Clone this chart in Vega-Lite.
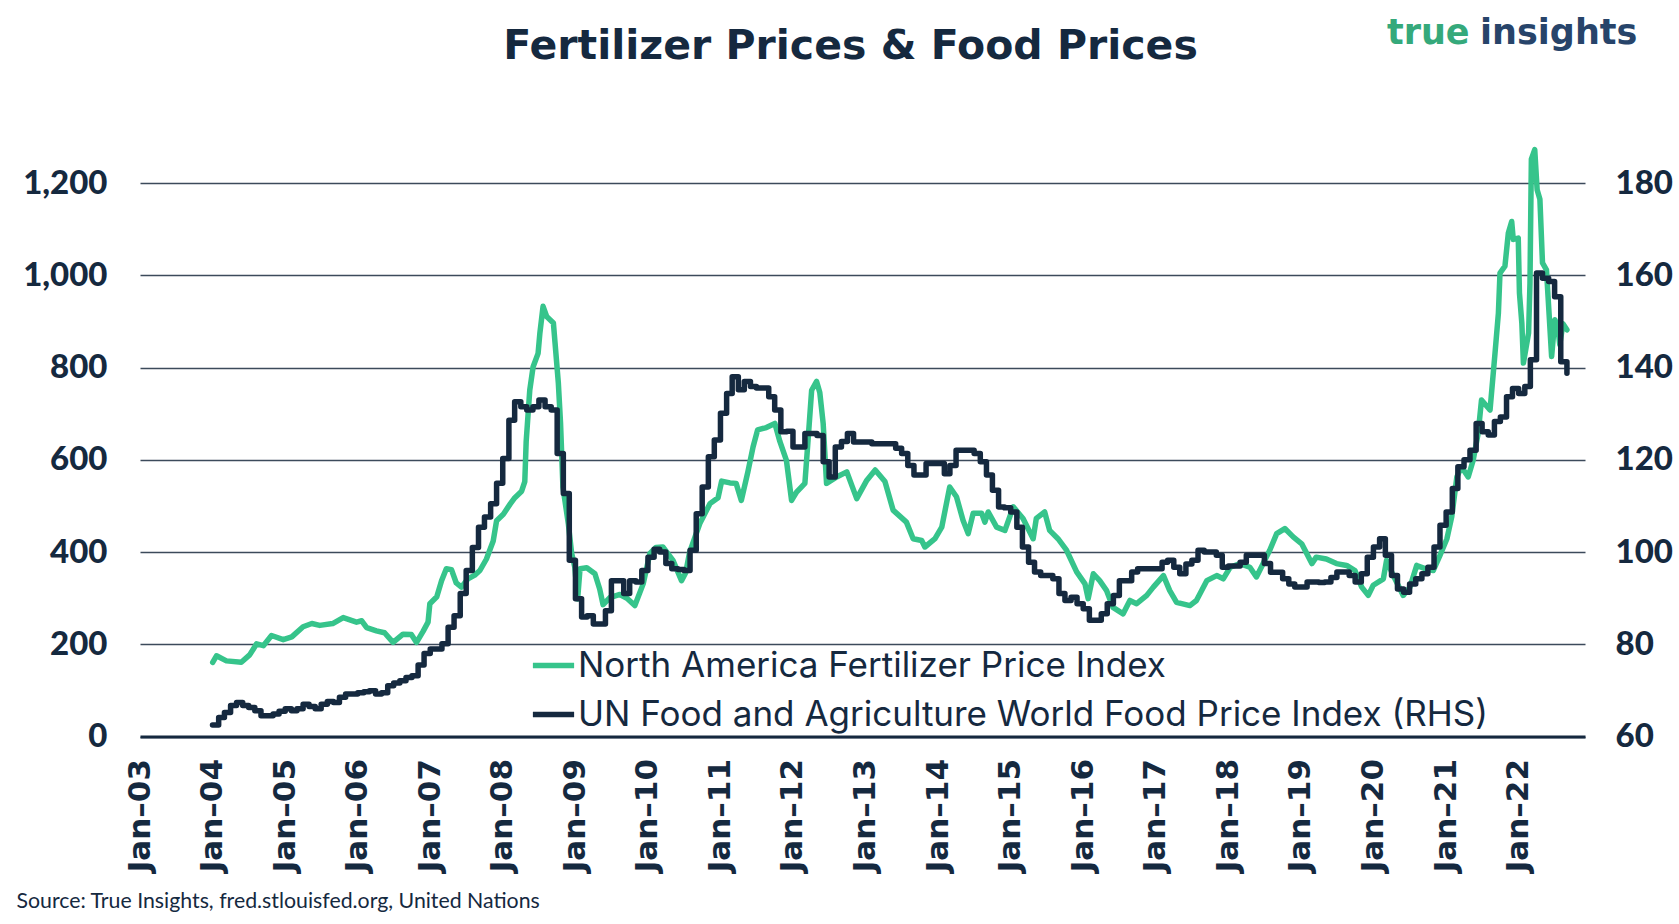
{
  "$schema": "https://vega.github.io/schema/vega-lite/v6.json",
  "width": 1445,
  "height": 645.5,
  "autosize": {"type": "none"},
  "padding": {"left": 140, "top": 91, "right": 94, "bottom": 187.5},
  "background": "white",
  "title": {
    "text": "Fertilizer Prices & Food Prices",
    "anchor": "middle",
    "frame": "group",
    "dx": -12,
    "dy": 120,
    "offset": 36,
    "baseline": "alphabetic",
    "font": "DejaVu Sans",
    "fontSize": 41,
    "fontWeight": "bold",
    "color": "#15293f"
  },
  "config": {"view": {"stroke": null}},
  "datasets": {
    "fert": [
      {"date": "2004-01-02", "fert": 161}, {"date": "2004-01-21", "fert": 175}, {"date": "2004-03-11", "fert": 164},
      {"date": "2004-05-25", "fert": 161}, {"date": "2004-07-06", "fert": 177}, {"date": "2004-08-10", "fert": 201},
      {"date": "2004-09-13", "fert": 197}, {"date": "2004-10-24", "fert": 219}, {"date": "2004-12-22", "fert": 210},
      {"date": "2005-02-03", "fert": 216}, {"date": "2005-04-01", "fert": 238}, {"date": "2005-05-15", "fert": 245},
      {"date": "2005-06-24", "fert": 241}, {"date": "2005-08-28", "fert": 245}, {"date": "2005-10-20", "fert": 258},
      {"date": "2005-12-26", "fert": 248}, {"date": "2006-01-21", "fert": 251}, {"date": "2006-02-15", "fert": 236},
      {"date": "2006-04-05", "fert": 229}, {"date": "2006-05-16", "fert": 225}, {"date": "2006-06-28", "fert": 204},
      {"date": "2006-08-17", "fert": 222}, {"date": "2006-09-28", "fert": 221}, {"date": "2006-10-24", "fert": 204},
      {"date": "2006-11-26", "fert": 228}, {"date": "2006-12-21", "fert": 248}, {"date": "2006-12-30", "fert": 288},
      {"date": "2007-02-03", "fert": 303}, {"date": "2007-02-27", "fert": 338}, {"date": "2007-03-23", "fert": 364},
      {"date": "2007-04-18", "fert": 362}, {"date": "2007-05-12", "fert": 333}, {"date": "2007-06-07", "fert": 324},
      {"date": "2007-07-10", "fert": 342}, {"date": "2007-08-13", "fert": 350}, {"date": "2007-09-08", "fert": 360},
      {"date": "2007-10-11", "fert": 385}, {"date": "2007-11-14", "fert": 424}, {"date": "2007-12-01", "fert": 468},
      {"date": "2008-01-04", "fert": 482}, {"date": "2008-02-07", "fert": 504}, {"date": "2008-03-02", "fert": 518},
      {"date": "2008-04-05", "fert": 532}, {"date": "2008-04-21", "fert": 553}, {"date": "2008-04-28", "fert": 640},
      {"date": "2008-05-16", "fert": 751}, {"date": "2008-06-02", "fert": 802}, {"date": "2008-06-27", "fert": 831},
      {"date": "2008-07-06", "fert": 875}, {"date": "2008-07-22", "fert": 933}, {"date": "2008-08-09", "fert": 911},
      {"date": "2008-09-12", "fert": 897}, {"date": "2008-09-20", "fert": 855}, {"date": "2008-10-07", "fert": 766},
      {"date": "2008-10-18", "fert": 679}, {"date": "2008-10-30", "fert": 541}, {"date": "2008-11-26", "fert": 462},
      {"date": "2008-12-13", "fert": 397}, {"date": "2008-12-29", "fert": 367}, {"date": "2009-01-12", "fert": 298},
      {"date": "2009-01-24", "fert": 364}, {"date": "2009-02-27", "fert": 366}, {"date": "2009-04-09", "fert": 353},
      {"date": "2009-05-03", "fert": 320}, {"date": "2009-05-20", "fert": 286}, {"date": "2009-06-23", "fert": 301},
      {"date": "2009-08-13", "fert": 308}, {"date": "2009-09-20", "fert": 299}, {"date": "2009-10-27", "fert": 284},
      {"date": "2009-12-08", "fert": 331}, {"date": "2010-01-11", "fert": 397}, {"date": "2010-02-10", "fert": 410},
      {"date": "2010-03-17", "fert": 411}, {"date": "2010-05-07", "fert": 382}, {"date": "2010-06-19", "fert": 338},
      {"date": "2010-07-10", "fert": 355}, {"date": "2010-07-30", "fert": 400}, {"date": "2010-09-19", "fert": 462},
      {"date": "2010-11-09", "fert": 505}, {"date": "2010-12-20", "fert": 518}, {"date": "2011-01-07", "fert": 554},
      {"date": "2011-02-18", "fert": 550}, {"date": "2011-03-21", "fert": 549}, {"date": "2011-04-16", "fert": 512},
      {"date": "2011-05-19", "fert": 574}, {"date": "2011-06-14", "fert": 628}, {"date": "2011-07-07", "fert": 665},
      {"date": "2011-08-20", "fert": 670}, {"date": "2011-10-02", "fert": 679}, {"date": "2011-10-27", "fert": 640},
      {"date": "2011-11-29", "fert": 599}, {"date": "2011-12-25", "fert": 512}, {"date": "2012-01-19", "fert": 530},
      {"date": "2012-03-01", "fert": 549}, {"date": "2012-03-17", "fert": 643}, {"date": "2012-04-04", "fert": 751},
      {"date": "2012-04-29", "fert": 770}, {"date": "2012-05-15", "fert": 746}, {"date": "2012-06-01", "fert": 679},
      {"date": "2012-06-18", "fert": 549}, {"date": "2012-08-08", "fert": 563}, {"date": "2012-09-28", "fert": 574},
      {"date": "2012-11-17", "fert": 516}, {"date": "2013-01-07", "fert": 556}, {"date": "2013-02-18", "fert": 578},
      {"date": "2013-04-08", "fert": 553}, {"date": "2013-05-19", "fert": 491}, {"date": "2013-07-25", "fert": 465},
      {"date": "2013-08-28", "fert": 429}, {"date": "2013-10-10", "fert": 425}, {"date": "2013-10-26", "fert": 411},
      {"date": "2013-12-16", "fert": 429}, {"date": "2014-01-19", "fert": 454}, {"date": "2014-02-28", "fert": 541},
      {"date": "2014-04-03", "fert": 520}, {"date": "2014-05-06", "fert": 469}, {"date": "2014-06-01", "fert": 440},
      {"date": "2014-06-26", "fert": 484}, {"date": "2014-08-08", "fert": 484}, {"date": "2014-08-24", "fert": 465},
      {"date": "2014-09-10", "fert": 487}, {"date": "2014-10-22", "fert": 454}, {"date": "2014-12-03", "fert": 447},
      {"date": "2015-01-14", "fert": 498}, {"date": "2015-03-04", "fert": 473}, {"date": "2015-04-24", "fert": 429},
      {"date": "2015-05-10", "fert": 473}, {"date": "2015-06-21", "fert": 487}, {"date": "2015-07-16", "fert": 447},
      {"date": "2015-08-27", "fert": 429}, {"date": "2015-10-09", "fert": 404}, {"date": "2015-11-29", "fert": 357},
      {"date": "2016-01-10", "fert": 331}, {"date": "2016-01-26", "fert": 299}, {"date": "2016-02-21", "fert": 353},
      {"date": "2016-03-24", "fert": 338}, {"date": "2016-04-27", "fert": 317}, {"date": "2016-05-30", "fert": 280},
      {"date": "2016-07-20", "fert": 266}, {"date": "2016-08-23", "fert": 295}, {"date": "2016-09-26", "fert": 288},
      {"date": "2016-11-16", "fert": 306}, {"date": "2016-12-19", "fert": 324}, {"date": "2017-02-08", "fert": 349},
      {"date": "2017-03-11", "fert": 317}, {"date": "2017-04-15", "fert": 291}, {"date": "2017-06-21", "fert": 284},
      {"date": "2017-07-24", "fert": 295}, {"date": "2017-09-14", "fert": 338}, {"date": "2017-11-03", "fert": 349},
      {"date": "2017-12-06", "fert": 342}, {"date": "2018-01-10", "fert": 367}, {"date": "2018-02-28", "fert": 375},
      {"date": "2018-04-19", "fert": 367}, {"date": "2018-05-22", "fert": 346}, {"date": "2018-06-25", "fert": 375},
      {"date": "2018-07-28", "fert": 404}, {"date": "2018-09-01", "fert": 440}, {"date": "2018-10-12", "fert": 451},
      {"date": "2018-11-23", "fert": 433}, {"date": "2019-01-05", "fert": 418}, {"date": "2019-02-25", "fert": 375},
      {"date": "2019-03-19", "fert": 389}, {"date": "2019-05-09", "fert": 385}, {"date": "2019-06-29", "fert": 375},
      {"date": "2019-08-19", "fert": 371}, {"date": "2019-09-30", "fert": 360}, {"date": "2019-11-03", "fert": 324},
      {"date": "2019-12-06", "fert": 306}, {"date": "2019-12-31", "fert": 328}, {"date": "2020-02-20", "fert": 342},
      {"date": "2020-03-07", "fert": 382}, {"date": "2020-04-10", "fert": 349}, {"date": "2020-05-30", "fert": 306},
      {"date": "2020-07-03", "fert": 324}, {"date": "2020-08-06", "fert": 371}, {"date": "2020-09-17", "fert": 364},
      {"date": "2020-10-28", "fert": 360}, {"date": "2020-12-01", "fert": 393}, {"date": "2021-01-05", "fert": 429},
      {"date": "2021-01-29", "fert": 476}, {"date": "2021-02-24", "fert": 563}, {"date": "2021-03-19", "fert": 585},
      {"date": "2021-04-22", "fert": 563}, {"date": "2021-05-17", "fert": 599}, {"date": "2021-06-11", "fert": 657},
      {"date": "2021-06-28", "fert": 730}, {"date": "2021-08-10", "fert": 708}, {"date": "2021-09-04", "fert": 831},
      {"date": "2021-09-21", "fert": 918}, {"date": "2021-09-29", "fert": 1005}, {"date": "2021-10-24", "fert": 1020},
      {"date": "2021-11-10", "fert": 1092}, {"date": "2021-11-27", "fert": 1117}, {"date": "2021-12-05", "fert": 1078},
      {"date": "2021-12-30", "fert": 1081}, {"date": "2022-01-05", "fert": 962}, {"date": "2022-01-17", "fert": 897},
      {"date": "2022-01-25", "fert": 810}, {"date": "2022-02-20", "fert": 875}, {"date": "2022-02-27", "fert": 983},
      {"date": "2022-03-06", "fert": 1252}, {"date": "2022-03-23", "fert": 1273}, {"date": "2022-04-04", "fert": 1186},
      {"date": "2022-04-18", "fert": 1165}, {"date": "2022-05-01", "fert": 1027}, {"date": "2022-05-21", "fert": 1012},
      {"date": "2022-05-29", "fert": 954}, {"date": "2022-06-16", "fert": 824}, {"date": "2022-07-02", "fert": 904},
      {"date": "2022-07-17", "fert": 890}, {"date": "2022-07-27", "fert": 850}, {"date": "2022-08-12", "fert": 895},
      {"date": "2022-09-01", "fert": 882}
    ],
    "food": [
      {"date": "2004-01-01", "food": 62.5}, {"date": "2004-02-01", "food": 64.1}, {"date": "2004-03-01", "food": 65.2},
      {"date": "2004-04-01", "food": 66.7}, {"date": "2004-05-01", "food": 67.4}, {"date": "2004-06-01", "food": 66.7},
      {"date": "2004-07-01", "food": 66.3}, {"date": "2004-08-01", "food": 65.6}, {"date": "2004-09-01", "food": 64.5},
      {"date": "2004-10-01", "food": 64.5}, {"date": "2004-11-01", "food": 64.9}, {"date": "2004-12-01", "food": 65.5},
      {"date": "2005-01-01", "food": 66.0}, {"date": "2005-02-01", "food": 65.6}, {"date": "2005-03-01", "food": 66.0},
      {"date": "2005-04-01", "food": 67.0}, {"date": "2005-05-01", "food": 66.5}, {"date": "2005-06-01", "food": 66.0},
      {"date": "2005-07-01", "food": 67.0}, {"date": "2005-08-01", "food": 67.6}, {"date": "2005-09-01", "food": 67.4},
      {"date": "2005-10-01", "food": 68.5}, {"date": "2005-11-01", "food": 69.2}, {"date": "2005-12-01", "food": 69.2},
      {"date": "2006-01-01", "food": 69.5}, {"date": "2006-02-01", "food": 69.7}, {"date": "2006-03-01", "food": 69.9},
      {"date": "2006-04-01", "food": 69.2}, {"date": "2006-05-01", "food": 69.5}, {"date": "2006-06-01", "food": 71.0},
      {"date": "2006-07-01", "food": 71.6}, {"date": "2006-08-01", "food": 72.1}, {"date": "2006-09-01", "food": 72.8},
      {"date": "2006-10-01", "food": 73.2}, {"date": "2006-11-01", "food": 75.5}, {"date": "2006-12-01", "food": 78.0},
      {"date": "2007-01-01", "food": 79.0}, {"date": "2007-02-01", "food": 79.0}, {"date": "2007-03-01", "food": 80.1},
      {"date": "2007-04-01", "food": 83.7}, {"date": "2007-05-01", "food": 86.2}, {"date": "2007-06-01", "food": 91.0},
      {"date": "2007-07-01", "food": 96.0}, {"date": "2007-08-01", "food": 101.0}, {"date": "2007-09-01", "food": 105.4},
      {"date": "2007-10-01", "food": 107.6}, {"date": "2007-11-01", "food": 110.5}, {"date": "2007-12-01", "food": 114.9},
      {"date": "2008-01-01", "food": 120.3}, {"date": "2008-02-01", "food": 128.6}, {"date": "2008-03-01", "food": 132.6},
      {"date": "2008-04-01", "food": 131.5}, {"date": "2008-05-01", "food": 130.8}, {"date": "2008-06-01", "food": 131.5},
      {"date": "2008-07-01", "food": 133.0}, {"date": "2008-08-01", "food": 131.5}, {"date": "2008-09-01", "food": 130.8},
      {"date": "2008-10-01", "food": 121.4}, {"date": "2008-11-01", "food": 112.7}, {"date": "2008-12-01", "food": 98.2},
      {"date": "2009-01-01", "food": 89.9}, {"date": "2009-02-01", "food": 85.9}, {"date": "2009-03-01", "food": 86.2},
      {"date": "2009-04-01", "food": 84.4}, {"date": "2009-05-01", "food": 84.4}, {"date": "2009-06-01", "food": 87.3},
      {"date": "2009-07-01", "food": 93.8}, {"date": "2009-08-01", "food": 93.8}, {"date": "2009-09-01", "food": 91.0},
      {"date": "2009-10-01", "food": 93.8}, {"date": "2009-11-01", "food": 93.5}, {"date": "2009-12-01", "food": 96.0},
      {"date": "2010-01-01", "food": 98.9}, {"date": "2010-02-01", "food": 100.6}, {"date": "2010-03-01", "food": 100.0},
      {"date": "2010-04-01", "food": 97.5}, {"date": "2010-05-01", "food": 96.4}, {"date": "2010-06-01", "food": 96.2},
      {"date": "2010-07-01", "food": 96.0}, {"date": "2010-08-01", "food": 100.4}, {"date": "2010-09-01", "food": 108.3},
      {"date": "2010-10-01", "food": 114.1}, {"date": "2010-11-01", "food": 120.7}, {"date": "2010-12-01", "food": 124.3},
      {"date": "2011-01-01", "food": 130.1}, {"date": "2011-02-01", "food": 134.4}, {"date": "2011-03-01", "food": 138.0},
      {"date": "2011-04-01", "food": 135.2}, {"date": "2011-05-01", "food": 137.0}, {"date": "2011-06-01", "food": 135.9},
      {"date": "2011-07-01", "food": 135.6}, {"date": "2011-08-01", "food": 135.6}, {"date": "2011-09-01", "food": 133.7},
      {"date": "2011-10-01", "food": 130.8}, {"date": "2011-11-01", "food": 126.1}, {"date": "2011-12-01", "food": 126.2},
      {"date": "2012-01-01", "food": 122.8}, {"date": "2012-02-01", "food": 122.8}, {"date": "2012-03-01", "food": 125.7},
      {"date": "2012-04-01", "food": 125.7}, {"date": "2012-05-01", "food": 125.3}, {"date": "2012-06-01", "food": 119.6},
      {"date": "2012-07-01", "food": 116.3}, {"date": "2012-08-01", "food": 122.8}, {"date": "2012-09-01", "food": 124.0},
      {"date": "2012-10-01", "food": 125.7}, {"date": "2012-11-01", "food": 123.9}, {"date": "2012-12-01", "food": 123.9},
      {"date": "2013-01-01", "food": 123.9}, {"date": "2013-02-01", "food": 123.5}, {"date": "2013-03-01", "food": 123.5},
      {"date": "2013-04-01", "food": 123.5}, {"date": "2013-05-01", "food": 123.5}, {"date": "2013-06-01", "food": 122.5},
      {"date": "2013-07-01", "food": 121.4}, {"date": "2013-08-01", "food": 118.8}, {"date": "2013-09-01", "food": 116.7},
      {"date": "2013-10-01", "food": 116.7}, {"date": "2013-11-01", "food": 119.2}, {"date": "2013-12-01", "food": 119.2},
      {"date": "2014-01-01", "food": 119.2}, {"date": "2014-02-01", "food": 117.0}, {"date": "2014-03-01", "food": 118.8},
      {"date": "2014-04-01", "food": 122.1}, {"date": "2014-05-01", "food": 122.1}, {"date": "2014-06-01", "food": 122.1},
      {"date": "2014-07-01", "food": 121.4}, {"date": "2014-08-01", "food": 119.6}, {"date": "2014-09-01", "food": 116.7},
      {"date": "2014-10-01", "food": 113.4}, {"date": "2014-11-01", "food": 109.8}, {"date": "2014-12-01", "food": 109.6},
      {"date": "2015-01-01", "food": 108.7}, {"date": "2015-02-01", "food": 105.4}, {"date": "2015-03-01", "food": 101.1},
      {"date": "2015-04-01", "food": 97.8}, {"date": "2015-05-01", "food": 95.7}, {"date": "2015-06-01", "food": 94.9},
      {"date": "2015-07-01", "food": 94.9}, {"date": "2015-08-01", "food": 94.2}, {"date": "2015-09-01", "food": 91.0},
      {"date": "2015-10-01", "food": 89.5}, {"date": "2015-11-01", "food": 90.2}, {"date": "2015-12-01", "food": 88.8},
      {"date": "2016-01-01", "food": 87.7}, {"date": "2016-02-01", "food": 85.2}, {"date": "2016-03-01", "food": 85.2},
      {"date": "2016-04-01", "food": 86.6}, {"date": "2016-05-01", "food": 88.8}, {"date": "2016-06-01", "food": 90.6},
      {"date": "2016-07-01", "food": 93.8}, {"date": "2016-08-01", "food": 93.8}, {"date": "2016-09-01", "food": 95.7},
      {"date": "2016-10-01", "food": 96.4}, {"date": "2016-11-01", "food": 96.4}, {"date": "2016-12-01", "food": 96.4},
      {"date": "2017-01-01", "food": 96.4}, {"date": "2017-02-01", "food": 97.8}, {"date": "2017-03-01", "food": 98.2},
      {"date": "2017-04-01", "food": 96.7}, {"date": "2017-05-01", "food": 95.3}, {"date": "2017-06-01", "food": 97.4},
      {"date": "2017-07-01", "food": 98.2}, {"date": "2017-08-01", "food": 100.4}, {"date": "2017-09-01", "food": 100.0},
      {"date": "2017-10-01", "food": 100.0}, {"date": "2017-11-01", "food": 99.3}, {"date": "2017-12-01", "food": 96.7},
      {"date": "2018-01-01", "food": 97.0}, {"date": "2018-02-01", "food": 97.0}, {"date": "2018-03-01", "food": 97.8},
      {"date": "2018-04-01", "food": 99.3}, {"date": "2018-05-01", "food": 99.3}, {"date": "2018-06-01", "food": 99.3},
      {"date": "2018-07-01", "food": 97.5}, {"date": "2018-08-01", "food": 95.6}, {"date": "2018-09-01", "food": 95.6},
      {"date": "2018-10-01", "food": 94.2}, {"date": "2018-11-01", "food": 93.1}, {"date": "2018-12-01", "food": 92.4},
      {"date": "2019-01-01", "food": 92.4}, {"date": "2019-02-01", "food": 93.5}, {"date": "2019-03-01", "food": 93.5},
      {"date": "2019-04-01", "food": 93.4}, {"date": "2019-05-01", "food": 93.5}, {"date": "2019-06-01", "food": 94.5},
      {"date": "2019-07-01", "food": 95.7}, {"date": "2019-08-01", "food": 95.7}, {"date": "2019-09-01", "food": 94.9},
      {"date": "2019-10-01", "food": 93.5}, {"date": "2019-11-01", "food": 95.3}, {"date": "2019-12-01", "food": 98.9},
      {"date": "2020-01-01", "food": 101.1}, {"date": "2020-02-01", "food": 102.9}, {"date": "2020-03-01", "food": 99.3},
      {"date": "2020-04-01", "food": 94.9}, {"date": "2020-05-01", "food": 92.0}, {"date": "2020-06-01", "food": 91.3},
      {"date": "2020-07-01", "food": 93.1}, {"date": "2020-08-01", "food": 94.2}, {"date": "2020-09-01", "food": 95.3},
      {"date": "2020-10-01", "food": 96.7}, {"date": "2020-11-01", "food": 101.1}, {"date": "2020-12-01", "food": 105.8},
      {"date": "2021-01-01", "food": 108.7}, {"date": "2021-02-01", "food": 113.8}, {"date": "2021-03-01", "food": 118.5},
      {"date": "2021-04-01", "food": 120.0}, {"date": "2021-05-01", "food": 122.1}, {"date": "2021-06-01", "food": 127.9},
      {"date": "2021-07-01", "food": 126.1}, {"date": "2021-08-01", "food": 125.4}, {"date": "2021-09-01", "food": 128.3},
      {"date": "2021-10-01", "food": 129.3}, {"date": "2021-11-01", "food": 133.7}, {"date": "2021-12-01", "food": 135.5},
      {"date": "2022-01-01", "food": 134.4}, {"date": "2022-02-01", "food": 135.9}, {"date": "2022-03-01", "food": 141.7},
      {"date": "2022-04-01", "food": 160.5}, {"date": "2022-05-01", "food": 159.4}, {"date": "2022-06-01", "food": 158.7},
      {"date": "2022-07-01", "food": 155.4}, {"date": "2022-08-01", "food": 141.3}, {"date": "2022-09-01", "food": 138.8}
    ]
  },
  "layer": [
    {
      "layer": [
        {
          "data": {"name": "fert"},
          "mark": {"type": "line", "strokeWidth": 5.5, "strokeCap": "round", "strokeJoin": "round"},
          "encoding": {
            "x": {
              "field": "date",
              "type": "temporal",
              "scale": {"domain": [{"year": 2003, "month": 1, "date": 1}, {"year": 2022, "month": 12, "date": 1}]},
              "axis": {
                "title": "Source: True Insights, fred.stlouisfed.org, United Nations",
                "titleX": -124,
                "titleY": 170.5,
                "titleAlign": "left",
                "titleAnchor": "start",
                "titleBaseline": "alphabetic",
                "titleFont": "Lato",
                "titleFontSize": 21.3,
                "titleFontWeight": "normal",
                "titleColor": "#15293f",
                "format": "%b–%y",
                "tickCount": {"interval": "year", "step": 1},
                "labelAngle": 270,
                "labelAlign": "right",
                "labelBaseline": "middle",
                "labelPadding": 22,
                "labelFont": "DejaVu Sans",
                "labelFontSize": 31,
                "labelFontWeight": "bold",
                "labelColor": "#15293f",
                "labelOverlap": false,
                "labelFlush": false,
                "ticks": false,
                "grid": false,
                "domainColor": "#15293f",
                "domainWidth": 3
              }
            },
            "y": {
              "field": "fert",
              "type": "quantitative",
              "scale": {"domain": [0, 1400], "nice": false},
              "axis": {
                "title": null,
                "orient": "left",
                "values": [0, 200, 400, 600, 800, 1000, 1200],
                "format": ",.0f",
                "domain": false,
                "ticks": false,
                "labelPadding": 33,
                "labelFont": "Lato",
                "labelFontSize": 33,
                "labelFontWeight": 900,
                "labelColor": "#15293f",
                "grid": true,
                "gridColor": "#3c4a5b",
                "gridWidth": 1.3
              }
            },
            "color": {
              "datum": "North America Fertilizer Price Index",
              "scale": {
                "domain": ["North America Fertilizer Price Index", "UN Food and Agriculture World Food Price Index (RHS)"],
                "range": ["#36c48b", "#15293f"]
              },
              "legend": {
                "title": null,
                "orient": "none",
                "legendX": 390,
                "legendY": 551,
                "padding": 0,
                "symbolType": "stroke",
                "symbolStrokeWidth": 5.5,
                "symbolSize": 1700,
                "labelFont": "Inter",
                "labelFontSize": 35,
                "labelColor": "#15293f",
                "labelLimit": 1200,
                "labelOffset": 1,
                "rowPadding": 7
              }
            }
          }
        },
        {
          "data": {"values": [{}]},
          "mark": {"type": "text", "text": "true", "font": "DejaVu Sans", "fontWeight": "bold", "fontSize": 35, "color": "#35a97b", "align": "left", "baseline": "alphabetic"},
          "encoding": {
            "x": {"datum": {"year": 2020, "month": 3, "date": 9}},
            "y": {"datum": 1503}
          }
        },
        {
          "data": {"values": [{}]},
          "mark": {"type": "text", "text": "insights", "font": "DejaVu Sans", "fontWeight": "bold", "fontSize": 35, "color": "#27446a", "align": "left", "baseline": "alphabetic"},
          "encoding": {
            "x": {"datum": {"year": 2021, "month": 6, "date": 21}},
            "y": {"datum": 1503}
          }
        }
      ]
    },
    {
      "data": {"name": "food"},
      "mark": {"type": "line", "strokeWidth": 5.5, "strokeCap": "round", "strokeJoin": "round", "interpolate": "step-after"},
      "encoding": {
        "x": {"field": "date", "type": "temporal"},
        "y": {
          "field": "food",
          "type": "quantitative",
          "scale": {"domain": [60, 200], "nice": false},
          "axis": {
            "title": null,
            "orient": "right",
            "values": [60, 80, 100, 120, 140, 160, 180],
            "domain": false,
            "ticks": false,
            "grid": false,
            "labelPadding": 30,
            "labelFont": "Lato",
            "labelFontSize": 33,
            "labelFontWeight": 900,
            "labelColor": "#15293f"
          }
        },
        "color": {"datum": "UN Food and Agriculture World Food Price Index (RHS)"}
      }
    }
  ],
  "resolve": {"scale": {"y": "independent"}}
}
